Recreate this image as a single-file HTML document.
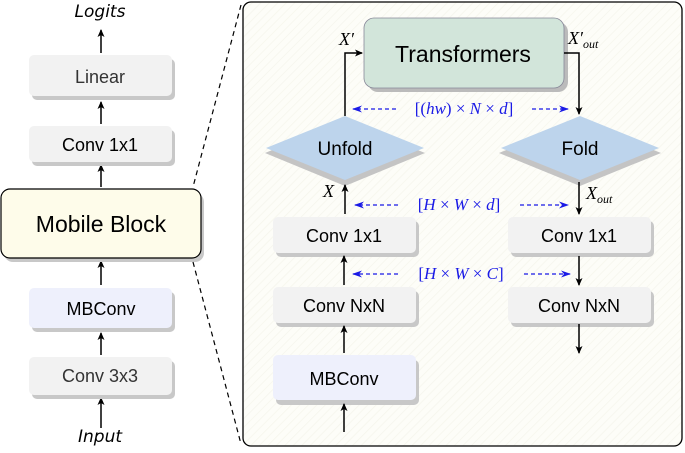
<!DOCTYPE html>
<html><head><style>
body{margin:0;width:685px;height:448px;background:#fff;overflow:hidden}
text{font-family:"Liberation Sans",sans-serif}
text.m,.m text{font-family:"Liberation Serif",serif;font-style:italic}
</style></head><body>
<svg width="685" height="448" viewBox="0 0 685 448" xmlns="http://www.w3.org/2000/svg">
<defs>
<marker id="a" markerWidth="8" markerHeight="8" refX="7" refY="4" orient="auto" markerUnits="userSpaceOnUse"><path d="M0,0.5 L8,4 L0,7.5 L2,4z" fill="#000"/></marker>
<marker id="b" markerWidth="10" markerHeight="8" refX="9" refY="4" orient="auto" markerUnits="userSpaceOnUse"><path d="M0,0.5 L10,4 L0,7.5 L3,4z" fill="#1a1ae6"/></marker>
<pattern id="st" width="6" height="6" patternUnits="userSpaceOnUse" patternTransform="rotate(45)"><rect width="6" height="6" fill="#fdfdf8"/><line x1="0" y1="0" x2="0" y2="6" stroke="#f5f5ec" stroke-width="1.5"/></pattern>
</defs>
<text x="100" y="17" font-size="17" text-anchor="middle" style="font-family:'DejaVu Sans',sans-serif;font-style:italic">Logits</text>
<text x="100" y="442" font-size="17" text-anchor="middle" style="font-family:'DejaVu Sans',sans-serif;font-style:italic">Input</text>
<g stroke="#000" stroke-width="1.5" marker-end="url(#a)">
<line x1="101" y1="53" x2="101" y2="30"/>
<line x1="101" y1="124" x2="101" y2="102"/>
<line x1="101" y1="187" x2="101" y2="165"/>
<line x1="101" y1="285" x2="101" y2="261"/>
<line x1="101" y1="355" x2="101" y2="333"/>
<line x1="101" y1="428" x2="101" y2="398"/>
</g>
<g>
<rect x="32" y="59" width="143" height="41" rx="5" fill="#c8c8c8"/>
<rect x="29" y="55" width="143" height="41" rx="5" fill="#f2f2f2"/>
<text x="100" y="83" font-size="18" text-anchor="middle" fill="#333">Linear</text>
<rect x="32" y="130" width="143" height="36" rx="5" fill="#c8c8c8"/>
<rect x="29" y="126" width="143" height="36" rx="5" fill="#f2f2f2"/>
<text x="100" y="151" font-size="18" text-anchor="middle">Conv 1x1</text>
<rect x="4" y="193" width="200" height="69" rx="9" fill="#c8c8c8"/>
<rect x="1" y="189" width="200" height="69" rx="9" fill="#fefcea" stroke="#000" stroke-width="1.2"/>
<text x="101" y="232" font-size="23" text-anchor="middle">Mobile Block</text>
<rect x="32" y="292" width="143" height="40" rx="5" fill="#c8c8c8"/>
<rect x="29" y="288" width="143" height="40" rx="5" fill="#eef0fc"/>
<text x="101" y="315" font-size="18" text-anchor="middle">MBConv</text>
<rect x="32" y="361" width="143" height="38" rx="5" fill="#c8c8c8"/>
<rect x="29" y="357" width="143" height="38" rx="5" fill="#f2f2f2"/>
<text x="100" y="382" font-size="18" text-anchor="middle" fill="#333">Conv 3x3</text>
</g>
<g stroke="#000" stroke-width="1.2" stroke-dasharray="5,4">
<line x1="241" y1="5" x2="193" y2="187"/>
<line x1="193" y1="262" x2="241" y2="444"/>
</g>
<rect x="243" y="2" width="439" height="444" rx="8" fill="url(#st)" stroke="#000" stroke-width="1.3"/>
<rect x="368" y="22" width="200" height="70" rx="10" fill="#bbb"/>
<rect x="364" y="18" width="200" height="70" rx="10" fill="#d2e5da" stroke="#889" stroke-width="0.8"/>
<text x="463" y="62" font-size="23" text-anchor="middle">Transformers</text>
<path d="M345,120 L425,153 L345,186 L265,153z" fill="#c4c4c4"/>
<path d="M345,116 L424,148 L345,180 L266,148z" fill="#bdd4ec"/>
<text x="345" y="155" font-size="19" text-anchor="middle">Unfold</text>
<path d="M580,120 L661,153 L580,186 L499,153z" fill="#c4c4c4"/>
<path d="M580,116 L659,148 L580,180 L501,148z" fill="#bdd4ec"/>
<text x="580" y="155" font-size="19" text-anchor="middle">Fold</text>
<g font-size="18" text-anchor="middle">
<rect x="276" y="221" width="143" height="36" rx="5" fill="#c8c8c8"/>
<rect x="273" y="217" width="143" height="36" rx="5" fill="#f2f2f2"/>
<text x="344" y="242">Conv 1x1</text>
<rect x="511" y="221" width="143" height="36" rx="5" fill="#c8c8c8"/>
<rect x="508" y="217" width="143" height="36" rx="5" fill="#f2f2f2"/>
<text x="579" y="242">Conv 1x1</text>
<rect x="276" y="291" width="143" height="36" rx="5" fill="#c8c8c8"/>
<rect x="273" y="287" width="143" height="36" rx="5" fill="#f2f2f2"/>
<text x="344" y="312">Conv NxN</text>
<rect x="511" y="291" width="143" height="36" rx="5" fill="#c8c8c8"/>
<rect x="508" y="287" width="143" height="36" rx="5" fill="#f2f2f2"/>
<text x="579" y="312">Conv NxN</text>
<rect x="276" y="360" width="143" height="45" rx="5" fill="#c8c8c8"/>
<rect x="273" y="355" width="143" height="45" rx="5" fill="#eef0fc"/>
<text x="344" y="385">MBConv</text>
</g>
<g stroke="#000" stroke-width="1.5" fill="none" marker-end="url(#a)">
<polyline points="345,116 345,53 362,53"/>
<polyline points="564,53 579,53 579,114"/>
<line x1="345" y1="214" x2="345" y2="185"/>
<line x1="579" y1="182" x2="579" y2="214"/>
<line x1="344" y1="285" x2="344" y2="256"/>
<line x1="579" y1="256" x2="579" y2="285"/>
<line x1="344" y1="353" x2="344" y2="326"/>
<line x1="579" y1="324" x2="579" y2="353"/>
<line x1="344" y1="432" x2="344" y2="404"/>
</g>
<g class="m">
<text x="339" y="45" font-size="18">X′</text>
<text x="568" y="44" font-size="18">X′<tspan font-size="12" dy="4">out</tspan></text>
<text x="323" y="197" font-size="18">X</text>
<text x="586" y="199" font-size="18">X<tspan font-size="12" dy="4">out</tspan></text>
</g>
<g stroke="#1a1ae6" stroke-width="1.3" stroke-dasharray="4,3" fill="none">
<line x1="396" y1="109" x2="353" y2="109" marker-end="url(#b)"/>
<line x1="532" y1="109" x2="568" y2="109" marker-end="url(#b)"/>
<line x1="398" y1="205" x2="355" y2="205" marker-end="url(#b)"/>
<line x1="520" y1="205" x2="568" y2="205" marker-end="url(#b)"/>
<line x1="398" y1="274" x2="353" y2="274" marker-end="url(#b)"/>
<line x1="524" y1="274" x2="570" y2="274" marker-end="url(#b)"/>
</g>
<g class="m" fill="#1a1ae6" text-anchor="middle">
<text x="464" y="114" font-size="17"><tspan font-style="normal">[(</tspan>hw<tspan font-style="normal">) × </tspan>N<tspan font-style="normal"> × </tspan>d<tspan font-style="normal">]</tspan></text>
<text x="459" y="210" font-size="17"><tspan font-style="normal">[</tspan>H<tspan font-style="normal"> × </tspan>W<tspan font-style="normal"> × </tspan>d<tspan font-style="normal">]</tspan></text>
<text x="461" y="279" font-size="17"><tspan font-style="normal">[</tspan>H<tspan font-style="normal"> × </tspan>W<tspan font-style="normal"> × </tspan>C<tspan font-style="normal">]</tspan></text>
</g>
</svg>
</body></html>
